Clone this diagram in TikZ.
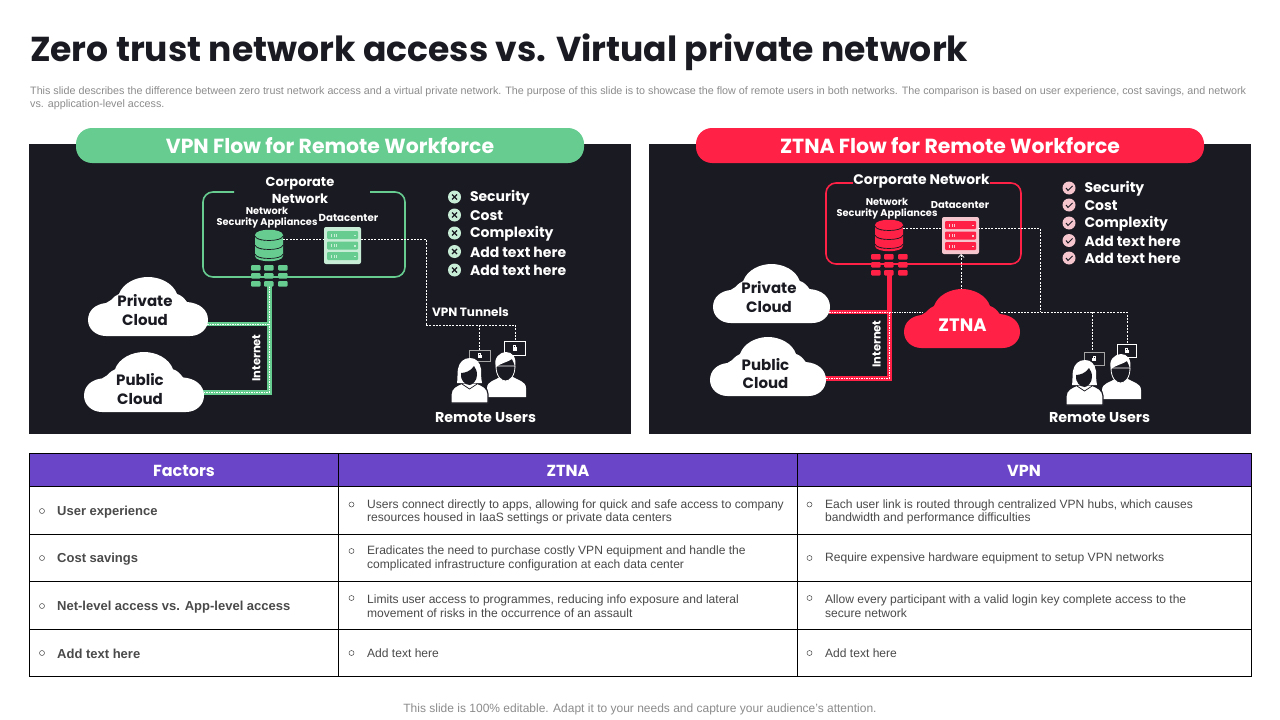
\documentclass[tikz,border=0pt]{standalone}
\usepackage{fontspec}
\setmainfont{Liberation Sans}
\newfontfamily\pop{Poppins}
\usetikzlibrary{arrows.meta,positioning}
\definecolor{darkbg}{HTML}{1A1A22}
\definecolor{vgreen}{HTML}{66CC90}
\definecolor{vpale}{HTML}{C8EDD6}
\definecolor{zred}{HTML}{FF2146}
\definecolor{zpale}{HTML}{F6C6CF}
\definecolor{purp}{HTML}{6A45C8}
\definecolor{grayt}{HTML}{8C8C8C}
\definecolor{bodyt}{HTML}{4A4A4A}
\newcommand{\fs}[1]{\fontsize{#1}{#1}\selectfont}
\tikzset{
 x=1pt,y=-1pt,
 lab/.style={inner sep=0pt,outer sep=0pt,font=\pop\bfseries,text=white,align=center},
 darklab/.style={lab,text=darkbg,font=\pop\bfseries\fs{15}},
 pill/.style={rounded corners=16pt},
 tunnel/.style={draw=white,line width=.7pt,dash pattern=on 2pt off 1.3pt},
 port/.style={inner sep=0pt,outer sep=0pt},
 cell/.style={inner sep=0pt,anchor=west,align=left,text=bodyt,font=\fs{12.05}},
 fac/.style={inner sep=0pt,anchor=west,text=bodyt,font=\bfseries\fs{13}},
 bul/.style={draw=bodyt,line width=.5pt,circle,minimum size=5pt,inner sep=0pt},
 listt/.style={lab,anchor=west,font=\pop\bfseries\fs{14}},
 tline/.style={draw=black,line width=.9pt},
}
\newcommand{\cloudicon}[5]{% x y w h colour
 \begin{scope}[shift={(#1,#2)},xscale=#3/120,yscale=#4/59]
  \fill[#5] (18,26) -- (23,23)
   .. controls (26,20) and (28,18) .. (31,17)
   .. controls (35,6) and (48,0) .. (60,0)
   .. controls (72,0) and (85,6) .. (89,17)
   .. controls (93,18) and (96,21) .. (99,25)
   .. controls (112,26) and (120,33) .. (120,43)
   .. controls (120,52) and (112,59) .. (102,59) -- (18,59)
   .. controls (8,59) and (0,52) .. (0,43)
   .. controls (0,33) and (8,27) .. (18,26) -- cycle;
 \end{scope}}
\newcommand{\dbicon}[3]{% x y colour
 \begin{scope}[shift={(#1,#2)}]
  \fill[#3] (0,5) -- (0,26) .. controls (0,33) and (28,33) .. (28,26) -- (28,5) .. controls (28,-2) and (0,-2) .. (0,5) -- cycle;
  \foreach \yy in {6,15,24}{
   \draw[darkbg,line width=.7pt] (0,\yy) .. controls (1,\yy+6) and (27,\yy+6) .. (28,\yy);}
  \foreach \yy in {10,19,28}{
   \fill[darkbg] (3,\yy-1) circle[radius=.5pt] (6,\yy) circle[radius=.5pt] (9,\yy+.5) circle[radius=.5pt];}
 \end{scope}}
\newcommand{\fwicon}[3]{% x y colour
 \begin{scope}[shift={(#1,#2)}]
  \foreach \yy in {0,8,16}\foreach \xx in {0,13,27}{
   \fill[#3,rounded corners=1pt] (\xx,\yy) rectangle +(9.5,5.5);}
 \end{scope}}
\newcommand{\svicon}[5]{% x y pale colour size
 \begin{scope}[shift={(#1,#2)}]
  \fill[#3,rounded corners=2pt] (0,0) rectangle (#5,37);
  \foreach \yy in {4,14.5,25}{
   \fill[#4,rounded corners=1pt] (3,\yy) rectangle (#5-3,\yy+8);
   \foreach \xx in {7,9.5,12}{\fill[#3] (\xx,\yy+2.5) rectangle +(1,3);}
   \fill[#3] (#5-7,\yy+3.5) rectangle +(1.5,1.5);}
 \end{scope}}
\newcommand{\screenicon}[5]{% x y w h colour
 \begin{scope}[shift={(#1,#2)}]
  \draw[#5,line width=1pt] (0,0) rectangle (#3,#4);
  \fill[white] (#3/2-2,#4/2-1) rectangle +(4,3.5);
  \draw[white,line width=.6pt] (#3/2-1.2,#4/2-1) -- +(0,-1.3) -- +(2.4,-1.3) -- +(2.4,0);
 \end{scope}}
\newcommand{\users}[2]{% x y = woman bbox top-left
 \begin{scope}[shift={(#1,#2)}]
  % man
  \begin{scope}[shift={(36,-6)}]
   \fill[white] (0,45) -- (0,36) .. controls (0,29) and (9,28) .. (13,25) -- (26,25) .. controls (30,28) and (39,29) .. (39,36) -- (39,45) -- cycle;
   \draw[white,line width=.8pt,fill=darkbg] (9,14) .. controls (9,24) and (14,29) .. (18.5,29) .. controls (23,29) and (28,24) .. (28,14) -- cycle;
   \fill[white] (9,15) .. controls (6,6) and (13,0) .. (19,0) .. controls (25,0) and (30,5) .. (28,15)
     .. controls (27,11) and (26,9) .. (25,7) .. controls (21,10) and (14,11) .. (9,15) -- cycle;
  \end{scope}
  % woman
  \draw[darkbg,line width=1.2pt,fill=white] (0,45) -- (0,36) .. controls (0,30) and (6,27) .. (12,25) -- (25,25) .. controls (31,27) and (37,30) .. (37,36) -- (37,45) -- cycle;
  \fill[white] (6,25) .. controls (7,20) and (6,15) .. (7,11) .. controls (8,4) and (13,0) .. (19,0) .. controls (25,0) and (29,4) .. (30,11) .. controls (30,15) and (30,20) .. (31,25) -- cycle;
  \fill[darkbg] (10,15) .. controls (14,15) and (20,13) .. (23,8) .. controls (25,11) and (26,13) .. (26,17) .. controls (26,23) and (21,27) .. (18.5,27) .. controls (14,27) and (9,22) .. (10,15) -- cycle;
  \draw[darkbg,line width=.7pt] (11,26) -- (18.5,31) -- (26,26);
 \end{scope}}
\newcommand{\xmark}[2]{\fill[vpale] (#1,#2) circle[radius=6.5pt];
 \draw[darkbg,line width=1.3pt] (#1-2.5,#2-2.5) -- (#1+2.5,#2+2.5) (#1-2.5,#2+2.5) -- (#1+2.5,#2-2.5);}
\newcommand{\cmark}[2]{\fill[zpale] (#1,#2) circle[radius=6.5pt];
 \draw[darkbg,line width=1pt] (#1-3,#2) -- (#1-1,#2+2.5) -- (#1+3.5,#2-2);}
\begin{document}
\begin{tikzpicture}
\useasboundingbox (0,0) rectangle (1280,720);
\fill[white] (0,0) rectangle (1280,720);
% title
\node[lab,anchor=west,text=darkbg,font=\pop\bfseries\fs{34.6}] (title) at (30,52) {Zero trust network access vs. Virtual private network};
\node[inner sep=0pt,anchor=west,text=grayt,font=\fs{10.75}] (sub1) at (30,92) {This slide describes the difference between zero trust network access and a virtual private network. The purpose of this slide is to showcase the flow of remote users in both networks. The comparison is based on user experience, cost savings, and network};
\node[inner sep=0pt,anchor=west,text=grayt,font=\fs{10.75}] (sub2) at (30,105) {vs. application-level access.};
% panels
\fill[darkbg] (29,144) rectangle (631,434);
\fill[darkbg] (649,144) rectangle (1251,434);
\fill[vgreen,pill] (76,128) rectangle (584,163);
\fill[zred,pill] (696,128) rectangle (1204,163);
\node[lab,font=\pop\bfseries\fs{20.4}] (vhead) at (330,146) {VPN Flow for Remote Workforce};
\node[lab,font=\pop\bfseries\fs{20.4}] (zhead) at (950,146) {ZTNA Flow for Remote Workforce};
%%%% VPN
\draw[vgreen,line width=1.6pt,rounded corners=10pt] (234,192) -- (203,192) -- (203,277) -- (405,277) -- (405,192) -- (370,192);
\node[lab,font=\pop\bfseries\fs{13},align=center] (vcorp) at (300,190.5) {Corporate\\[3.5pt]Network};
\node[lab,font=\pop\bfseries\fs{9.8}] (vnsa) at (267,217.5) {Network\\[1.5pt]Security Appliances};
\node[lab,font=\pop\bfseries\fs{10.2}] (vdc) at (348.5,217.5) {Datacenter};
\node[port,minimum width=28pt,minimum height=31pt] (vdb) at (269,245.5) {};
\node[port,minimum width=37pt,minimum height=37pt] (vsv) at (342.5,245.5) {};
\coordinate (vdbp) at (283,239);
\coordinate (vsvl) at (324,239);
\coordinate (vsvr) at (361,239);
\coordinate (vt1) at (426,325);
\coordinate (vu1) at (479,350);
\coordinate (vu2) at (515,341);
\coordinate (vpr) at (207,324);
\coordinate (vpu) at (203,392);
\coordinate (vtop) at (269,286);
% pipes
\draw[vgreen,line width=5pt] (vtop) -- (269,392) -- (vpu);
\draw[vgreen,line width=4pt] (vpr) -- (269,324);
\draw[white,line width=.8pt,dash pattern=on 1.5pt off 1pt] (vtop) -- (269,392) -- (vpu);
\draw[white,line width=.8pt,dash pattern=on 1.5pt off 1pt] (vpr) -- (269,324);
\dbicon{255}{230}{vgreen}
\fwicon{251}{265}{vgreen}
\svicon{324}{227}{vpale}{vgreen}{37}
\draw[tunnel] (vdbp) -- (vsvl);
\draw[tunnel] (vsvr) -- (426,239) -- (vt1);
\draw[tunnel] (vt1) -- (515,325) -- (vu2);
\draw[tunnel] (479,325) -- (vu1);
\cloudicon{88}{277}{120}{59}{white}
\cloudicon{84}{352}{120}{60}{white}
\node[darklab,align=center] (vprt) at (145,310) {Private\\[3.5pt]Cloud};
\node[darklab,align=center] (vput) at (140,389) {Public\\[3.5pt]Cloud};
\node[lab,rotate=90,font=\pop\bfseries\fs{11.5}] (vint) at (256.5,358) {Internet};
\node[lab,anchor=west,font=\pop\bfseries\fs{12}] (vtun) at (432,312) {VPN Tunnels};
\screenicon{469}{350}{21}{11}{gray!70}
\screenicon{504}{341}{21}{14}{white}
\users{451}{358}
\node[lab,font=\pop\bfseries\fs{14.3}] (vru) at (485.5,418) {Remote Users};
\foreach \yy/\tt in {197/Security,215/Cost,233/Complexity,251.5/Add text here,270/Add text here}{
 \xmark{454.5}{\yy}
 \node[listt] at (470,\yy+.5) {\tt};}
%%%% ZTNA
\draw[zred,line width=1.6pt,rounded corners=10pt] (853,183) -- (826,183) -- (826,264) -- (1021,264) -- (1021,183) -- (990,183);
\node[lab,font=\pop\bfseries\fs{13.9},fill=darkbg,inner xsep=0pt] (zcorp) at (921.5,181.5) {Corporate Network};
\node[lab,font=\pop\bfseries\fs{9.8}] (znsa) at (887,208.5) {Network\\[1.5pt]Security Appliances};
\node[lab,font=\pop\bfseries\fs{10}] (zdc) at (960,205.5) {Datacenter};
\node[port,minimum width=28pt,minimum height=31pt] (zdb) at (889,235) {};
\node[port,minimum width=37pt,minimum height=37pt] (zsv) at (961,235.5) {};
\coordinate (zdbp) at (903,228);
\coordinate (zsvl) at (942,228);
\coordinate (zsvr) at (978,228);
\coordinate (zj) at (1040,312);
\coordinate (zct) at (1001,312);
\coordinate (zu1) at (1092,352);
\coordinate (zu2) at (1127,344);
\coordinate (zpr) at (829,312);
\coordinate (zpu) at (825,378);
\coordinate (ztop) at (889,275);
\coordinate (zcin) at (923,312);
\coordinate (zctop) at (961,290);
\draw[zred,line width=5pt] (ztop) -- (889,378) -- (zpu);
\draw[zred,line width=4.5pt] (zpr) -- (889,312);
\draw[white,line width=.7pt,dash pattern=on 1.5pt off 1pt] (889,312) -- (889,378) -- (zpu);
\draw[white,line width=.7pt,dash pattern=on 1.5pt off 1pt] (zpr) -- (zcin);
\dbicon{875}{220}{zred}
\fwicon{871}{254}{zred}
\svicon{942}{217}{zpale}{zred}{37}
\draw[tunnel] (zdbp) -- (zsvl);
\draw[tunnel] (zsvr) -- (1040,228) -- (zj);
\draw[tunnel] (zct) -- (1127,312) -- (zu2);
\draw[tunnel] (1092,312) -- (zu1);
\draw[tunnel,-{Straight Barb[length=3pt,width=6pt]},dash pattern=on 2pt off 1.3pt] (zctop) -- (961,254);
\cloudicon{713}{264}{117}{59}{white}
\cloudicon{710}{337}{116}{59}{white}
\cloudicon{904}{289}{116}{59}{zred}
\node[darklab,align=center] (zprt) at (769,297) {Private\\[3.5pt]Cloud};
\node[darklab,align=center] (zput) at (765.5,373.5) {Public\\[3.5pt]Cloud};
\node[lab,font=\pop\bfseries\fs{18}] (zcl) at (962.5,325.5) {ZTNA};
\node[lab,rotate=90,font=\pop\bfseries\fs{11.5}] (zint) at (876.5,344) {Internet};
\screenicon{1084}{352}{20}{13}{gray!70}
\screenicon{1117}{344}{19}{13}{white}
\users{1066}{360}
\node[lab,font=\pop\bfseries\fs{14.3}] (zru) at (1099.5,418) {Remote Users};
\foreach \yy/\tt in {188/Security,205/Cost,223/Complexity,240.5/Add text here,258/Add text here}{
 \cmark{1069}{\yy}
 \node[listt] at (1084.5,\yy+.5) {\tt};}
%%%% table
\fill[purp] (29,453) rectangle (1251,486);
\draw[tline] (29,453) rectangle (1251,676);
\foreach \yy in {486,534,581,629}{\draw[tline] (29,\yy) -- (1251,\yy);}
\draw[tline] (338,453) -- (338,676);
\draw[tline] (797,453) -- (797,676);
\node[lab,font=\pop\bfseries\fs{16}] (hf) at (184,471) {Factors};
\node[lab,font=\pop\bfseries\fs{16}] (hz) at (568,471) {ZTNA};
\node[lab,font=\pop\bfseries\fs{16}] (hv) at (1024,471) {VPN};
\foreach \yy in {511,558,606,653}{\node[bul] at (42,\yy) {};}
\foreach \yy in {504.5,551,598,653}{\node[bul] at (351.5,\yy) {};}
\foreach \yy in {504.5,558,598,653}{\node[bul] at (809.5,\yy) {};}
\node[fac] (f1) at (57,512) {User experience};
\node[fac] (f2) at (57,559) {Cost savings};
\node[fac] (f3) at (57,607) {Net-level access vs. App-level access};
\node[fac] (f4) at (57,654) {Add text here};
\node[cell] (z1) at (367,512) {Users connect directly to apps, allowing for quick and safe access to company\\[1.5pt]resources housed in IaaS settings or private data centers};
\node[cell] (z2) at (367,558.5) {Eradicates the need to purchase costly VPN equipment and handle the\\[1.5pt]complicated infrastructure configuration at each data center};
\node[cell] (z3) at (367,606) {Limits user access to programmes, reducing info exposure and lateral\\[1.5pt]movement of risks in the occurrence of an assault};
\node[cell] (z4) at (367,653.5) {Add text here};
\node[cell] (v1) at (825,512) {Each user link is routed through centralized VPN hubs, which causes\\[1.5pt]bandwidth and performance difficulties};
\node[cell] (v2) at (825,558.5) {Require expensive hardware equipment to setup VPN networks};
\node[cell] (v3) at (825,606) {Allow every participant with a valid login key complete access to the\\[1.5pt]secure network};
\node[cell] (v4) at (825,653.5) {Add text here};
\node[inner sep=0pt,text=grayt,font=\fs{12}] (foot) at (640,709.5) {This slide is 100\% editable. Adapt it to your needs and capture your audience's attention.};
\end{tikzpicture}
\end{document}
